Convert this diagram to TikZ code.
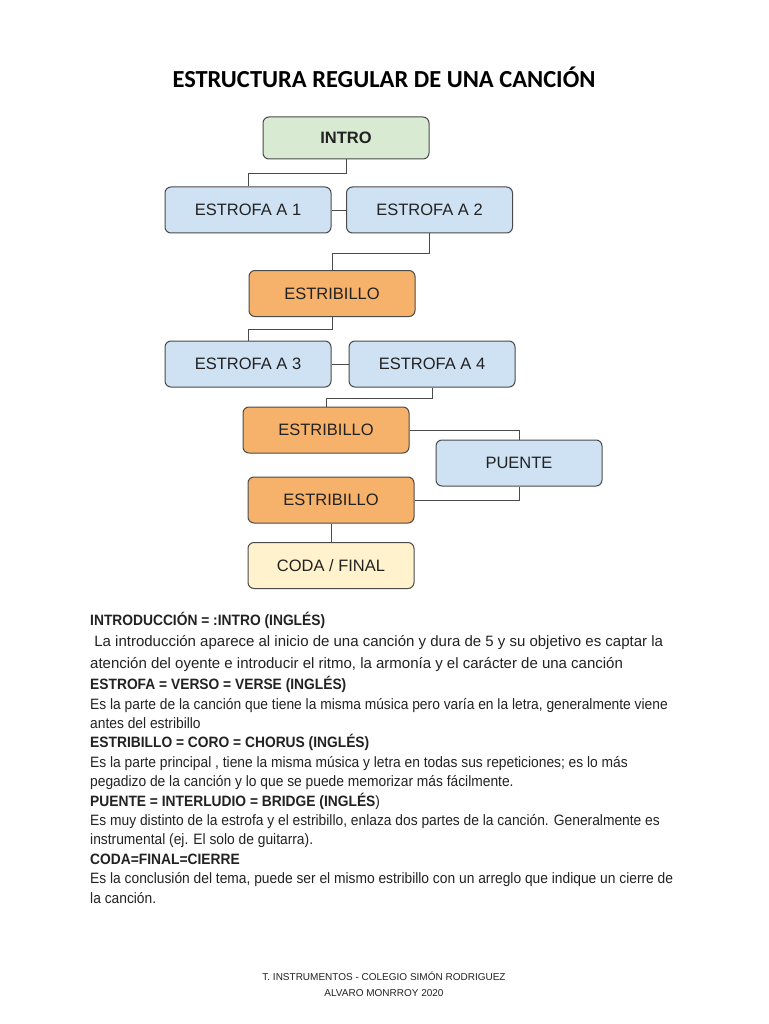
\documentclass[tikz,border=0pt]{standalone}
\usepackage{fontspec}
\setmainfont{Liberation Sans}
\newfontfamily\condfont{Liberation Sans}[FakeStretch=0.92]
\newfontfamily\titlefont{Carlito}
\definecolor{gbox}{HTML}{D9EAD3}
\definecolor{bbox}{HTML}{CFE2F3}
\definecolor{obox}{HTML}{F6B26B}
\definecolor{ybox}{HTML}{FFF2CC}
\definecolor{edge}{HTML}{4A4A4A}
\definecolor{txt}{HTML}{222222}
\tikzset{
  blk/.style={draw=edge, line width=1pt, rounded corners=6pt, minimum width=166pt, minimum height=46pt, inner sep=0pt, font=\fontsize{16.5}{19}\selectfont, text=txt},
  conn/.style={draw=edge, line width=0.9pt},
  body/.style={anchor=base west, inner sep=0pt, font=\fontsize{15}{17}\selectfont, text=txt},
  bodyc/.style={body, font=\condfont\fontsize{15}{17}\selectfont},
  bodyb/.style={body, font=\condfont\bfseries\fontsize{15}{17}\selectfont},
}
\begin{document}
\begin{tikzpicture}[x=1pt,y=-1pt]
\useasboundingbox[fill=white] (0,0) rectangle (768,1024);
\node[inner sep=0pt, anchor=base, font=\titlefont\bfseries\fontsize{24.5}{28}\selectfont] (title) at (384,88) {ESTRUCTURA REGULAR DE UNA CANCIÓN};

\node[blk, fill=gbox, minimum height=42pt, font=\bfseries\fontsize{16.5}{19}\selectfont] (intro) at (346,138) {INTRO};
\node[blk, fill=bbox] (e1) at (248,210) {ESTROFA A 1};
\node[blk, fill=bbox] (e2) at (429.5,210) {ESTROFA A 2};
\node[blk, fill=obox] (s1) at (332,293.5) {ESTRIBILLO};
\node[blk, fill=bbox] (e3) at (248,364) {ESTROFA A 3};
\node[blk, fill=bbox] (e4) at (432,364) {ESTROFA A 4};
\node[blk, fill=obox] (s2) at (326,430) {ESTRIBILLO};
\node[blk, fill=bbox] (pu) at (519,463) {PUENTE};
\node[blk, fill=obox] (s3) at (331,500) {ESTRIBILLO};
\node[blk, fill=ybox] (coda) at (331,565.5) {CODA / FINAL};

\coordinate (c1a) at (346,173);
\coordinate (c2a) at (429.5,253);
\coordinate (c3a) at (332,329);
\coordinate (c4a) at (432,398);
\draw[conn] (intro.south) |- (c1a) -| (e1.north);
\draw[conn] (e1.east) -- (e2.west);
\draw[conn] (e2.south) |- (c2a) -| (s1.north);
\draw[conn] (s1.south) |- (c3a) -| (e3.north);
\draw[conn] (e3.east) -- (e4.west);
\draw[conn] (e4.south) |- (c4a) -| (s2.north);
\draw[conn] (s2.east) -| (pu.north);
\draw[conn] (pu.south) |- (s3.east);
\draw[conn] (s3.south) -- (coda.north);

\node[bodyb] (t1) at (90,625) {INTRODUCCIÓN = :INTRO (INGLÉS)};
\node[body] (t2) at (90,646) {\ La introducción aparece al inicio de una canción y dura de 5 y su objetivo es captar la};
\node[body] (t3) at (90,668) {atención del oyente e introducir el ritmo, la armonía y el carácter de una canción};
\node[bodyb] (t4) at (90,689) {ESTROFA = VERSO = VERSE (INGLÉS)};
\node[bodyc] (t5) at (90,709) {Es la parte de la canción que tiene la misma música pero varía en la letra, generalmente viene};
\node[bodyc] (t6) at (90,728) {antes del estribillo};
\node[bodyb] (t7) at (90,747) {ESTRIBILLO = CORO = CHORUS (INGLÉS)};
\node[bodyc] (t8) at (90,767) {Es la parte principal , tiene la misma música y letra en todas sus repeticiones; es lo más};
\node[bodyc] (t9) at (90,786) {pegadizo de la canción y lo que se puede memorizar más fácilmente.};
\node[bodyc] (t10) at (90,806) {\bfseries PUENTE = INTERLUDIO = BRIDGE (INGLÉS\mdseries)};
\node[bodyc] (t11) at (90,825) {Es muy distinto de la estrofa y el estribillo, enlaza dos partes de la canción. Generalmente es};
\node[bodyc] (t12) at (90,844) {instrumental (ej. El solo de guitarra).};
\node[bodyb] (t13) at (90,864) {CODA=FINAL=CIERRE};
\node[bodyc] (t14) at (90,883) {Es la conclusión del tema, puede ser el mismo estribillo con un arreglo que indique un cierre de};
\node[bodyc] (t15) at (90,903) {la canción.};

\node[inner sep=0pt, anchor=base, font=\fontsize{10}{12}\selectfont, text=txt] (f1) at (384,980) {T. INSTRUMENTOS - COLEGIO SIMÓN RODRIGUEZ};
\node[inner sep=0pt, anchor=base, font=\fontsize{10}{12}\selectfont, text=txt] (f2) at (384,996) {ALVARO MONRROY 2020};
\end{tikzpicture}
\end{document}
